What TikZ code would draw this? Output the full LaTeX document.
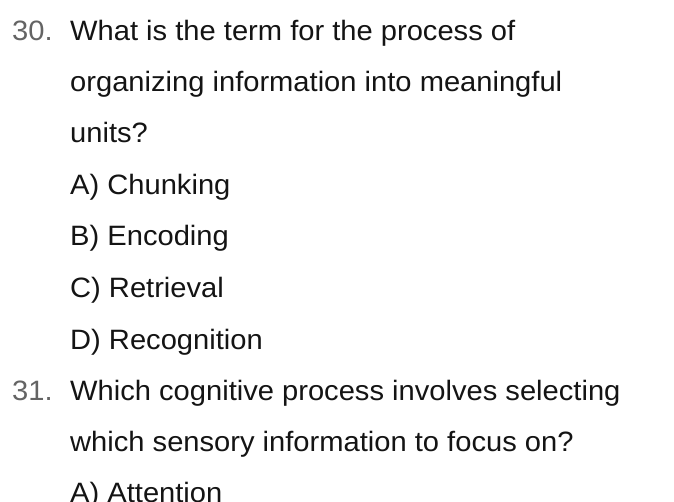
\documentclass[tikz,border=0pt]{standalone}
\usepackage{fontspec}
\setmainfont{Liberation Sans}[FakeStretch=1.04]
\definecolor{numgrey}{RGB}{100,100,100}
\definecolor{txt}{RGB}{20,20,20}
\begin{document}
\begin{tikzpicture}[x=1pt,y=1pt,
  line/.style={anchor=base west,inner sep=0pt,font=\fontsize{28}{32}\selectfont,text=txt},
  num/.style={anchor=base west,inner sep=0pt,font=\fontsize{28}{32}\selectfont,text=numgrey}]
\clip (0,0) rectangle (674,-502);
\fill[white] (0,0) rectangle (674,-502);
\node[num] (n30) at (12,-41) {30.};
\node[line] (l1) at (70,-41) {What is the term for the process of};
\node[line] (l2) at (70,-92) {organizing information into meaningful};
\node[line] (l3) at (70,-143) {units?};
\node[line] (l4) at (70,-195) {A) Chunking};
\node[line] (l5) at (70,-246) {B) Encoding};
\node[line] (l6) at (70,-298) {C) Retrieval};
\node[line] (l7) at (70,-349) {D) Recognition};
\node[num] (n31) at (12,-400) {31.};
\node[line] (l8) at (70,-400) {Which cognitive process involves selecting};
\node[line] (l9) at (70,-451) {which sensory information to focus on?};
\node[line] (l10) at (70,-502) {A) Attention};
\end{tikzpicture}
\end{document}
